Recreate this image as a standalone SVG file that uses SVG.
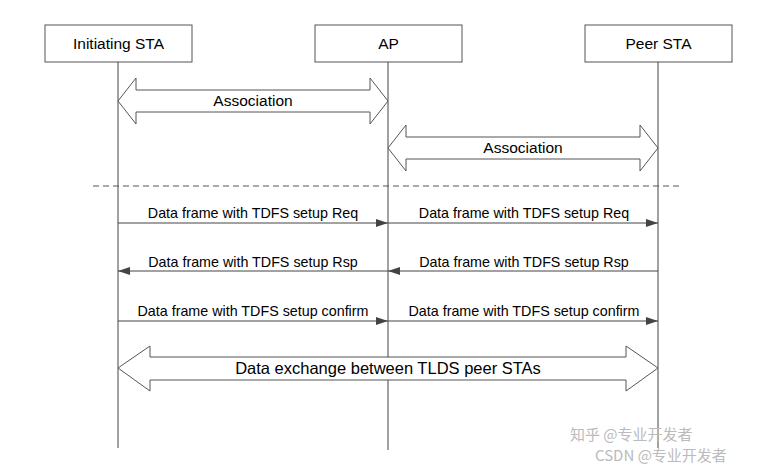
<svg xmlns="http://www.w3.org/2000/svg" width="778" height="469" viewBox="0 0 778 469">
<style>
text{font-family:"Liberation Sans",Arial,sans-serif;fill:#000}
.box{fill:#fff;stroke:#555;stroke-width:1}
.life{stroke:#444;stroke-width:1}
.big{fill:#fff;stroke:#555;stroke-width:1}
.msg{stroke:#444;stroke-width:1;fill:none;marker-end:url(#ah)}
.t15{font-size:15.5px}
.t13{font-size:14.3px}
.t16{font-size:16.5px}
.wm{font-family:"Noto Sans CJK SC","Liberation Sans",sans-serif;font-size:15px;fill:#bbb}
</style>
<defs>
<marker id="ah" markerWidth="12" markerHeight="8" refX="12" refY="4" orient="auto" markerUnits="userSpaceOnUse">
<path d="M0,0 L12,4 L0,8 Z" fill="#444"/>
</marker>
</defs>
<rect width="778" height="469" fill="#fff"/>
<g id="initiating">
<rect class="box" x="45" y="25" width="147" height="37"/>
<text class="t15" x="118.5" y="49" text-anchor="middle">Initiating STA</text>
<line class="life" x1="118" y1="62" x2="118" y2="448"/>
</g>
<g id="ap">
<rect class="box" x="315" y="25" width="147" height="37"/>
<text class="t15" x="388.5" y="49" text-anchor="middle">AP</text>
<line class="life" x1="388" y1="62" x2="388" y2="450"/>
</g>
<g id="peer">
<rect class="box" x="585" y="25" width="147" height="37"/>
<text class="t15" x="658.5" y="49" text-anchor="middle">Peer STA</text>
<line class="life" x1="658" y1="62" x2="658" y2="448"/>
</g>
<g id="connectors">
<path class="big" d="M118,101 L136,78 L136,90 L370,90 L370,78 L388,101 L370,124 L370,112 L136,112 L136,124 Z"/>
<text class="t15" x="253" y="106" text-anchor="middle">Association</text>
<path class="big" d="M388,148 L406,125 L406,137 L640,137 L640,125 L658,148 L640,171 L640,159 L406,159 L406,171 Z"/>
<text class="t15" x="523" y="153" text-anchor="middle">Association</text>
<line x1="93" y1="186" x2="683" y2="186" stroke="#555" stroke-dasharray="6,4"/>
<line class="msg" x1="118" y1="223" x2="388" y2="223"/>
<text class="t13" x="253" y="218" text-anchor="middle">Data frame with TDFS setup Req</text>
<line class="msg" x1="388" y1="223" x2="658" y2="223"/>
<text class="t13" x="524" y="218" text-anchor="middle">Data frame with TDFS setup Req</text>
<line class="msg" x1="388" y1="271" x2="118" y2="271"/>
<text class="t13" x="253" y="267" text-anchor="middle">Data frame with TDFS setup Rsp</text>
<line class="msg" x1="658" y1="271" x2="388" y2="271"/>
<text class="t13" x="524" y="267" text-anchor="middle">Data frame with TDFS setup Rsp</text>
<line class="msg" x1="118" y1="321" x2="388" y2="321"/>
<text class="t13" x="253" y="316" text-anchor="middle">Data frame with TDFS setup confirm</text>
<line class="msg" x1="388" y1="321" x2="658" y2="321"/>
<text class="t13" x="524" y="316" text-anchor="middle">Data frame with TDFS setup confirm</text>
<path class="big" d="M118,368 L150,346 L150,357 L626,357 L626,346 L658,368 L626,391 L626,380 L150,380 L150,391 Z"/>
<text class="t16" x="388" y="374" text-anchor="middle">Data exchange between TLDS peer STAs</text>
</g>
<text class="wm" x="570" y="440">知乎 @专业开发者</text>
<text class="wm" x="595" y="461">CSDN @专业开发者</text>
</svg>
